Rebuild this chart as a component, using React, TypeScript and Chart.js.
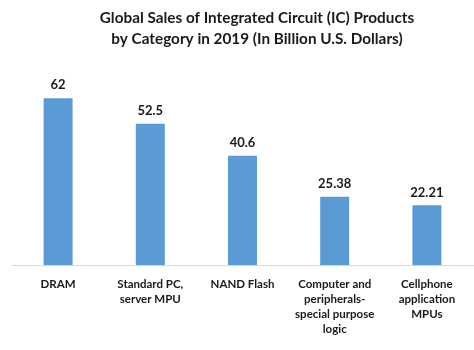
import React, { useEffect, useRef } from "react";
import { Chart, registerables } from "chart.js";

Chart.register(...registerables);

const categories: string[][] = [
  ["DRAM"],
  ["Standard PC,", "server MPU"],
  ["NAND Flash"],
  ["Computer and", "peripherals-", "special purpose", "logic"],
  ["Cellphone", "application", "MPUs"],
];
const salesValues: number[] = [62, 52.5, 40.6, 25.38, 22.21];
const valueLabels: string[] = ["62", "52.5", "40.6", "25.38", "22.21"];
const titleLines: string[] = [
  "Global Sales of Integrated Circuit (IC) Products",
  "by Category in 2019 (In Billion U.S. Dollars)",
];

const FONT = "Lato, 'Open Sans', 'DejaVu Sans', sans-serif";

const valueLabelPlugin = {
  id: "valueLabels",
  afterDatasetsDraw(chart: any) {
    const ctx = chart.ctx;
    const meta = chart.getDatasetMeta(0);
    ctx.save();
    ctx.font = `bold 13px ${FONT}`;
    ctx.fillStyle = "#1a1a1a";
    ctx.textAlign = "center";
    ctx.textBaseline = "middle";
    meta.data.forEach((bar: any, i: number) => {
      ctx.fillText(valueLabels[i], bar.x, bar.y - 13);
    });
    ctx.restore();
  },
};

const titleShiftPlugin = {
  id: "titleShift",
  afterLayout(chart: any) {
    const tb = chart.titleBlock;
    if (tb) {
      tb.left = 40;
      tb.right = chart.width;
    }
  },
};

export default function App() {
  const ref = useRef<HTMLCanvasElement | null>(null);
  useEffect(() => {
    if (!ref.current) return;
    const chart = new Chart(ref.current, {
      type: "bar",
      data: {
        labels: categories,
        datasets: [
          {
            data: salesValues,
            backgroundColor: "#5b9bd5",
            borderWidth: 0,
            categoryPercentage: 0.8,
            barPercentage: 0.393,
          },
        ],
      },
      options: {
        animation: false,
        responsive: true,
        maintainAspectRatio: false,
        layout: { padding: { left: 12, right: 1, top: 0, bottom: 1 } },
        plugins: {
          legend: { display: false },
          tooltip: { enabled: false },
          title: {
            display: true,
            text: titleLines,
            color: "#1a1a1a",
            font: { family: FONT, size: 15.3, weight: "bold", lineHeight: 1.36 },
            padding: { top: 8, bottom: 27 },
          },
        },
        scales: {
          x: {
            grid: { display: false, drawTicks: false },
            border: { display: true, color: "#d9d9d9", width: 1 },
            ticks: {
              color: "#1a1a1a",
              padding: 12,
              maxRotation: 0,
              autoSkip: false,
              font: { family: FONT, size: 11.5, weight: "bold", lineHeight: 1.3 },
            },
          },
          y: {
            display: false,
            min: 0,
            max: 70,
          },
        },
      },
      plugins: [valueLabelPlugin, titleShiftPlugin],
    });
    return () => chart.destroy();
  }, []);
  return (
    <div style={{ position: "absolute", left: 0, top: 0, width: 474, height: 350, background: "#fff" }}>
      <canvas ref={ref} />
    </div>
  );
}
